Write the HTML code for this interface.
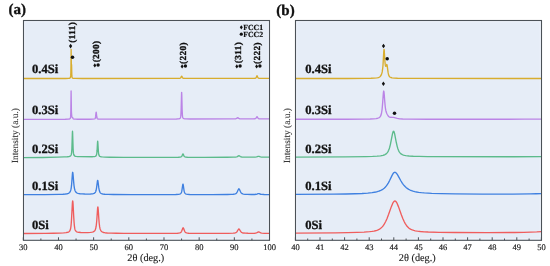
<!DOCTYPE html>
<html><head><meta charset="utf-8"><title>XRD</title>
<style>html,body{margin:0;padding:0;background:#fff;}body{width:550px;height:266px;overflow:hidden;}svg{display:block;text-rendering:geometricPrecision;}</style>
</head><body>
<svg width="550" height="266" viewBox="0 0 550 266">
<defs><clipPath id="ca"><rect x="23" y="20" width="247" height="221"/></clipPath><clipPath id="cb"><rect x="295" y="20" width="247" height="221"/></clipPath></defs>
<rect x="23.5" y="20.5" width="246.0" height="219.8" fill="#e6edf7"/>
<rect x="295.5" y="20.5" width="246.0" height="219.8" fill="#e6edf7"/>
<rect x="24.7" y="21.7" width="243.6" height="217.4" fill="none" stroke="#f8fbff" stroke-opacity="0.7" stroke-width="1"/>
<rect x="296.7" y="21.7" width="243.6" height="217.4" fill="none" stroke="#f8fbff" stroke-opacity="0.7" stroke-width="1"/>
<g fill="none" stroke-width="1.35" stroke-linejoin="round" clip-path="url(#ca)">
<path stroke="#d8ad2e" d="M23.30,78.50 L65.65,78.46 L68.67,78.37 L69.37,78.27 L69.87,78.09 L70.08,77.94 L70.29,77.65 L70.50,77.01 L70.71,75.40 L70.85,72.83 L70.99,65.45 L71.14,49.37 L71.34,65.68 L71.41,66.28 L71.56,64.58 L71.84,75.66 L71.98,76.99 L72.19,77.67 L72.40,77.95 L72.61,78.10 L73.38,78.32 L75.64,78.44 L82.11,78.47 L177.98,78.40 L179.67,78.31 L180.38,78.12 L180.80,77.71 L181.43,76.35 L181.64,76.14 L181.85,76.35 L182.42,77.59 L182.84,78.08 L183.47,78.29 L184.74,78.38 L196.20,78.43 L252.62,78.38 L254.80,78.29 L255.36,78.21 L255.71,78.07 L255.99,77.83 L256.21,77.52 L256.84,75.98 L257.01,75.80 L257.19,75.98 L257.68,77.23 L257.96,77.74 L258.32,78.07 L258.74,78.22 L259.58,78.32 L261.13,78.37 L269.50,78.40"/>
<path stroke="#bb84e6" d="M23.30,119.35 L65.29,119.24 L68.46,119.14 L69.23,119.03 L69.73,118.85 L70.15,118.44 L70.43,117.70 L70.57,116.88 L70.71,115.09 L70.85,110.12 L71.10,91.04 L71.41,110.94 L71.56,113.73 L71.77,116.18 L71.91,116.98 L72.05,117.29 L72.47,117.41 L73.03,118.44 L73.31,118.79 L73.67,118.99 L74.16,119.10 L75.35,119.18 L77.60,119.22 L89.63,119.21 L93.08,119.14 L94.49,118.95 L94.84,118.80 L95.05,118.63 L95.26,118.29 L95.40,117.86 L95.68,116.18 L96.03,112.80 L96.18,112.21 L96.32,112.80 L96.74,116.72 L96.88,117.56 L97.09,118.29 L97.30,118.63 L97.65,118.87 L98.14,119.01 L98.85,119.10 L101.17,119.17 L106.87,119.19 L169.68,119.07 L176.51,118.99 L178.05,118.90 L179.04,118.75 L179.53,118.59 L179.88,118.39 L180.16,118.12 L180.38,117.80 L180.66,116.96 L180.87,115.37 L181.15,109.55 L181.50,95.13 L181.64,92.36 L181.78,95.13 L182.13,109.54 L182.42,115.37 L182.63,116.96 L182.91,117.80 L183.33,118.32 L184.03,118.68 L184.81,118.84 L185.93,118.93 L190.22,119.01 L233.13,118.93 L234.89,118.87 L235.81,118.74 L236.37,118.52 L237.35,117.86 L237.71,117.76 L238.06,117.86 L238.83,118.40 L239.25,118.62 L239.74,118.76 L240.45,118.85 L244.74,118.92 L253.11,118.87 L254.73,118.78 L255.50,118.57 L255.99,118.15 L256.77,116.89 L257.01,116.72 L257.26,116.89 L257.82,117.85 L258.17,118.30 L258.60,118.60 L259.09,118.74 L261.62,118.87 L269.50,118.89"/>
<path stroke="#5cbb8b" d="M23.30,157.59 L42.78,157.47 L57.98,157.14 L64.17,156.92 L67.33,156.75 L69.09,156.53 L69.66,156.39 L70.15,156.18 L70.71,155.73 L71.13,155.01 L71.41,154.03 L71.63,152.57 L71.91,148.31 L72.40,132.57 L72.50,131.27 L72.61,132.56 L73.10,148.28 L73.24,150.86 L73.45,153.13 L73.74,154.56 L73.95,155.12 L74.23,155.58 L74.58,155.92 L75.00,156.16 L75.49,156.32 L76.20,156.45 L77.46,156.56 L79.50,156.62 L92.17,156.75 L93.50,156.70 L94.49,156.60 L95.19,156.42 L95.68,156.17 L96.10,155.76 L96.39,155.23 L96.60,154.51 L96.81,153.26 L97.09,150.17 L97.51,142.67 L97.69,141.19 L97.86,142.68 L98.43,151.99 L98.64,153.80 L98.85,154.86 L99.20,155.73 L99.48,156.09 L99.83,156.37 L100.75,156.73 L102.22,156.95 L104.97,157.11 L109.68,157.24 L123.68,157.39 L166.10,157.36 L178.41,157.26 L180.38,157.10 L180.87,156.97 L181.29,156.75 L181.57,156.50 L181.85,156.11 L182.70,154.23 L182.84,154.02 L182.98,153.94 L183.12,154.02 L183.26,154.23 L184.10,156.11 L184.39,156.50 L184.67,156.75 L185.09,156.96 L185.58,157.09 L187.41,157.24 L191.84,157.30 L204.01,157.30 L226.94,157.25 L233.84,157.18 L235.52,157.09 L236.58,156.90 L237.35,156.58 L238.48,155.86 L238.90,155.75 L239.32,155.86 L240.38,156.53 L241.08,156.85 L241.93,157.03 L243.05,157.13 L248.89,157.20 L255.08,157.12 L256.56,156.95 L258.17,156.38 L258.60,156.31 L259.02,156.38 L260.50,156.91 L261.62,157.09 L263.94,157.16 L269.50,157.19"/>
<path stroke="#3f80e0" d="M23.30,194.69 L44.90,194.60 L59.17,194.36 L62.90,194.22 L65.44,194.02 L67.12,193.76 L68.39,193.36 L69.30,192.79 L69.66,192.44 L70.01,191.97 L70.57,190.75 L70.99,189.16 L71.27,187.52 L71.56,185.19 L72.40,174.04 L72.54,172.75 L72.68,172.29 L72.82,172.64 L73.03,174.33 L73.67,182.14 L74.02,185.53 L74.44,188.29 L74.93,190.24 L75.28,191.12 L75.64,191.75 L76.06,192.28 L76.62,192.77 L77.25,193.12 L78.03,193.41 L78.94,193.62 L80.07,193.79 L82.11,193.95 L84.78,194.04 L88.02,194.07 L90.55,194.01 L91.95,193.90 L93.08,193.72 L93.92,193.46 L94.63,193.07 L95.12,192.59 L95.47,192.05 L95.82,191.23 L96.10,190.26 L96.60,187.61 L97.37,181.49 L97.51,180.75 L97.69,180.39 L97.86,180.75 L98.00,181.50 L98.71,187.15 L99.06,189.34 L99.48,191.07 L99.90,192.13 L100.18,192.58 L100.54,192.98 L100.96,193.32 L101.52,193.61 L102.86,193.99 L104.83,194.24 L108.13,194.41 L113.34,194.52 L132.12,194.63 L170.39,194.59 L175.80,194.51 L178.55,194.33 L179.60,194.13 L180.38,193.82 L180.87,193.42 L181.29,192.74 L181.57,191.97 L181.85,190.80 L182.70,185.04 L182.84,184.37 L182.98,184.13 L183.12,184.37 L183.26,185.04 L184.10,190.80 L184.39,191.97 L184.67,192.74 L185.09,193.41 L185.58,193.81 L186.35,194.13 L187.48,194.34 L189.59,194.49 L193.18,194.56 L212.03,194.60 L227.51,194.53 L231.02,194.44 L233.27,194.29 L234.40,194.12 L235.17,193.91 L235.81,193.60 L236.30,193.21 L236.72,192.72 L237.14,192.04 L238.48,189.16 L238.69,188.90 L238.90,188.80 L239.11,188.90 L239.39,189.28 L240.52,191.77 L240.87,192.40 L241.29,192.98 L241.71,193.39 L242.21,193.72 L242.77,193.95 L243.47,194.13 L245.02,194.32 L247.34,194.44 L251.14,194.50 L254.45,194.47 L256.28,194.28 L256.98,194.08 L258.10,193.65 L258.60,193.57 L259.09,193.66 L260.71,194.24 L261.90,194.44 L264.22,194.53 L269.50,194.57"/>
<path stroke="#ef5d5d" d="M23.30,233.48 L45.39,233.38 L53.48,233.24 L59.88,233.06 L63.61,232.87 L66.07,232.62 L67.76,232.26 L68.39,232.03 L68.95,231.73 L69.37,231.40 L69.73,231.01 L70.22,230.06 L70.57,228.80 L70.92,226.59 L71.20,223.82 L71.48,219.96 L72.40,203.16 L72.54,201.64 L72.70,201.01 L72.82,201.39 L72.89,201.93 L73.03,203.64 L73.74,216.94 L74.09,222.46 L74.37,225.61 L74.72,228.18 L74.93,229.18 L75.21,230.07 L75.49,230.64 L75.85,231.11 L76.34,231.53 L76.90,231.83 L77.68,232.10 L78.59,232.29 L80.77,232.51 L84.01,232.61 L87.87,232.58 L90.55,232.43 L92.10,232.20 L93.22,231.85 L94.06,231.37 L94.77,230.66 L95.26,229.80 L95.68,228.59 L96.03,226.98 L96.32,225.09 L96.81,219.97 L97.58,208.60 L97.72,207.38 L97.86,206.95 L98.00,207.39 L98.22,209.46 L98.85,219.07 L99.20,223.27 L99.62,226.64 L100.04,228.68 L100.33,229.57 L100.68,230.34 L101.10,230.98 L101.59,231.48 L102.22,231.91 L102.93,232.23 L103.84,232.50 L104.90,232.71 L107.36,232.97 L111.02,233.16 L116.43,233.29 L123.75,233.38 L165.53,233.41 L173.69,233.37 L177.56,233.25 L178.90,233.13 L179.81,232.95 L180.45,232.70 L180.94,232.33 L181.29,231.89 L181.64,231.28 L182.77,228.29 L182.98,227.93 L183.15,227.83 L183.33,227.93 L183.54,228.29 L184.67,231.27 L185.02,231.89 L185.37,232.32 L185.86,232.70 L186.50,232.95 L187.41,233.12 L188.68,233.24 L191.28,233.34 L195.64,233.38 L217.45,233.39 L228.56,233.33 L233.34,233.16 L234.40,233.04 L235.17,232.88 L235.81,232.64 L236.30,232.34 L236.72,231.97 L237.14,231.46 L238.48,229.27 L238.69,229.07 L238.90,229.00 L239.11,229.07 L239.39,229.36 L240.52,231.25 L241.29,232.17 L241.71,232.48 L242.21,232.73 L243.47,233.04 L245.30,233.20 L248.12,233.29 L252.20,233.30 L254.73,233.21 L255.64,233.10 L256.35,232.92 L256.98,232.65 L258.10,232.00 L258.60,231.88 L259.09,232.00 L260.71,232.87 L261.90,233.17 L264.22,233.31 L269.50,233.37"/>
</g>
<g fill="none" stroke-width="1.35" stroke-linejoin="round" clip-path="url(#cb)">
<path stroke="#d8ad2e" d="M295.40,78.48 L347.55,78.46 L366.00,78.38 L370.92,78.29 L374.37,78.15 L376.83,77.90 L378.30,77.58 L379.04,77.29 L379.78,76.84 L380.27,76.39 L380.76,75.79 L381.25,74.94 L381.50,74.38 L381.99,72.83 L382.24,71.71 L382.73,68.20 L382.98,65.45 L383.71,52.60 L383.96,49.61 L384.03,49.37 L384.21,50.14 L384.94,61.56 L385.19,64.14 L385.44,65.68 L385.68,66.34 L385.93,66.28 L386.67,64.46 L386.91,64.58 L387.16,65.54 L388.14,72.65 L388.39,73.96 L388.88,75.66 L389.37,76.52 L389.86,76.99 L390.85,77.51 L392.08,77.83 L394.29,78.10 L397.49,78.27 L410.04,78.42 L541.40,78.47"/>
<path stroke="#bb84e6" d="M295.40,119.28 L346.57,119.24 L365.26,119.14 L370.18,119.04 L373.63,118.88 L376.09,118.62 L377.81,118.24 L378.55,117.96 L379.29,117.54 L379.78,117.14 L380.27,116.57 L380.76,115.70 L381.01,115.09 L381.50,113.24 L381.99,110.12 L382.24,107.90 L382.73,101.92 L383.22,94.85 L383.47,92.15 L383.71,91.04 L383.96,91.90 L384.21,94.34 L384.70,100.88 L385.19,106.31 L385.44,108.27 L385.93,110.94 L386.17,111.84 L386.67,113.18 L387.16,114.24 L387.90,115.53 L388.39,116.18 L389.13,116.83 L389.62,117.09 L390.36,117.29 L392.57,117.34 L393.55,117.45 L397.24,118.44 L399.70,118.84 L402.66,119.03 L407.82,119.14 L427.26,119.22 L480.39,119.23 L524.43,119.19 L541.40,119.10"/>
<path stroke="#5cbb8b" d="M295.40,157.12 L345.09,156.86 L366.25,156.62 L372.64,156.43 L377.07,156.18 L380.52,155.80 L382.98,155.31 L383.96,155.01 L384.94,154.61 L385.68,154.20 L386.42,153.64 L387.16,152.88 L387.65,152.21 L388.14,151.38 L388.63,150.33 L389.13,149.05 L389.62,147.49 L390.36,144.58 L392.57,133.49 L393.06,131.87 L393.31,131.42 L393.55,131.27 L393.80,131.42 L394.05,131.86 L394.54,133.49 L396.26,142.26 L397.24,146.58 L397.98,149.03 L398.47,150.31 L398.97,151.35 L399.46,152.18 L400.20,153.13 L400.69,153.61 L401.43,154.16 L402.41,154.67 L403.39,155.04 L404.62,155.38 L405.85,155.62 L409.05,156.01 L413.23,156.28 L419.14,156.45 L427.50,156.55 L514.09,156.75 L541.40,156.69"/>
<path stroke="#3f80e0" d="M295.40,194.38 L333.78,194.15 L345.83,194.00 L354.93,193.79 L362.07,193.51 L367.72,193.14 L372.15,192.67 L375.84,192.02 L377.32,191.66 L378.79,191.22 L380.02,190.75 L381.25,190.19 L382.24,189.64 L383.22,188.98 L384.21,188.20 L385.19,187.27 L386.17,186.16 L386.91,185.19 L388.39,182.87 L389.62,180.55 L392.08,175.39 L393.06,173.66 L393.55,173.01 L394.05,172.55 L394.54,172.32 L394.78,172.29 L395.28,172.38 L395.77,172.64 L396.26,173.07 L396.75,173.64 L397.74,175.11 L400.69,180.48 L402.41,183.28 L403.39,184.63 L404.38,185.81 L405.36,186.83 L406.35,187.71 L407.58,188.63 L408.81,189.39 L410.04,190.02 L411.51,190.63 L412.99,191.12 L414.71,191.58 L416.68,191.99 L418.65,192.32 L421.35,192.66 L424.30,192.94 L431.68,193.39 L441.52,193.69 L455.05,193.90 L482.36,194.05 L512.86,194.05 L530.08,193.89 L536.23,193.75 L541.40,193.56"/>
<path stroke="#ef5d5d" d="M295.40,233.11 L335.25,232.83 L347.55,232.64 L356.90,232.40 L364.03,232.07 L369.69,231.63 L371.91,231.37 L373.87,231.05 L375.35,230.74 L376.83,230.33 L378.06,229.86 L379.04,229.39 L380.02,228.80 L381.01,228.06 L381.99,227.13 L382.73,226.30 L383.47,225.34 L384.21,224.23 L385.68,221.54 L387.16,218.22 L388.63,214.33 L391.34,206.64 L392.57,203.66 L393.31,202.30 L393.80,201.64 L394.29,201.20 L394.54,201.08 L394.91,201.01 L395.28,201.08 L395.52,201.20 L396.01,201.63 L396.51,202.29 L397.24,203.64 L398.47,206.62 L401.43,214.97 L402.90,218.77 L404.38,221.98 L405.12,223.35 L406.10,224.93 L407.08,226.24 L408.07,227.31 L409.05,228.18 L410.04,228.88 L411.02,229.44 L412.25,229.98 L413.73,230.45 L415.20,230.81 L417.42,231.18 L420.37,231.53 L424.06,231.82 L428.24,232.04 L439.06,232.35 L455.05,232.53 L487.53,232.61 L514.83,232.49 L523.69,232.37 L530.82,232.19 L536.73,231.95 L541.40,231.65"/>
</g>
<rect x="23.5" y="20.5" width="246.0" height="219.8" fill="none" stroke="#4b5157" stroke-width="1.1"/>
<rect x="295.5" y="20.5" width="246.0" height="219.8" fill="none" stroke="#4b5157" stroke-width="1.1"/>
<path stroke="#4b5157" stroke-width="1" d="M23.30,240.30 V237.30 M40.89,240.30 V238.50 M58.47,240.30 V237.30 M76.06,240.30 V238.50 M93.64,240.30 V237.30 M111.23,240.30 V238.50 M128.81,240.30 V237.30 M146.40,240.30 V238.50 M163.99,240.30 V237.30 M181.57,240.30 V238.50 M199.16,240.30 V237.30 M216.74,240.30 V238.50 M234.33,240.30 V237.30 M251.91,240.30 V238.50 M269.50,240.30 V237.30 M295.40,240.30 V237.30 M307.70,240.30 V238.50 M320.00,240.30 V237.30 M332.30,240.30 V238.50 M344.60,240.30 V237.30 M356.90,240.30 V238.50 M369.20,240.30 V237.30 M381.50,240.30 V238.50 M393.80,240.30 V237.30 M406.10,240.30 V238.50 M418.40,240.30 V237.30 M430.70,240.30 V238.50 M443.00,240.30 V237.30 M455.30,240.30 V238.50 M467.60,240.30 V237.30 M479.90,240.30 V238.50 M492.20,240.30 V237.30 M504.50,240.30 V238.50 M516.80,240.30 V237.30 M529.10,240.30 V238.50 M541.40,240.30 V237.30"/>
<g font-family="'Liberation Serif','Times New Roman',serif" font-size="8.5" fill="#1a1a1a" stroke="#1a1a1a" stroke-width="0.15" text-anchor="middle">
<text x="23.30" y="250.0">30</text>
<text x="58.47" y="250.0">40</text>
<text x="93.64" y="250.0">50</text>
<text x="128.81" y="250.0">60</text>
<text x="163.99" y="250.0">70</text>
<text x="199.16" y="250.0">80</text>
<text x="234.33" y="250.0">90</text>
<text x="269.50" y="250.0">100</text>
<text x="295.40" y="250.0">40</text>
<text x="320.00" y="250.0">41</text>
<text x="344.60" y="250.0">42</text>
<text x="369.20" y="250.0">43</text>
<text x="393.80" y="250.0">44</text>
<text x="418.40" y="250.0">45</text>
<text x="443.00" y="250.0">46</text>
<text x="467.60" y="250.0">47</text>
<text x="492.20" y="250.0">48</text>
<text x="516.80" y="250.0">49</text>
<text x="541.40" y="250.0">50</text>
</g>
<g font-family="'Liberation Serif','Times New Roman',serif" font-size="10" fill="#1a1a1a" stroke="#1a1a1a" stroke-width="0.12" text-anchor="middle">
<text x="145.8" y="260.9" font-size="10.3">2θ (deg.)</text>
<text x="417.3" y="260.9" font-size="10.3">2θ (deg.)</text>
<text transform="translate(18.2,135.6) rotate(-90)" font-size="9.4" fill="#383838" stroke="#383838">Intensity (a.u.)</text>
<text transform="translate(290.2,135.6) rotate(-90)" font-size="9.4" fill="#383838" stroke="#383838">Intensity (a.u.)</text>
</g>
<g font-family="'Liberation Serif','Times New Roman',serif" font-weight="bold" font-size="15" fill="#111" stroke="#111" stroke-width="0.3">
<text x="8.6" y="14.4">(a)</text>
<text x="276.3" y="15.0">(b)</text>
</g>
<g font-family="'Liberation Serif','Times New Roman',serif" font-weight="bold" font-size="12.6" fill="#111" stroke="#111" stroke-width="0.3">
<text x="32" y="73.0">0.4Si</text>
<text x="305.2" y="73.0">0.4Si</text>
<text x="32" y="113.8">0.3Si</text>
<text x="305.2" y="113.8">0.3Si</text>
<text x="32" y="153.0">0.2Si</text>
<text x="305.2" y="153.0">0.2Si</text>
<text x="32" y="190.2">0.1Si</text>
<text x="305.2" y="190.2">0.1Si</text>
<text x="32" y="228.7">0Si</text>
<text x="305.2" y="228.7">0Si</text>
</g>
<g font-family="'Liberation Serif','Times New Roman',serif" font-weight="bold" font-size="9.2" letter-spacing="0.4" fill="#111" stroke="#111" stroke-width="0.35" text-anchor="middle">
<text transform="translate(71.80,32.30) rotate(-90)" dy="0.33em">(111)</text>
<text transform="translate(95.80,51.40) rotate(-90)" dy="0.33em">(200)</text>
<text transform="translate(183.00,53.10) rotate(-90)" dy="0.33em">(220)</text>
<text transform="translate(237.50,52.60) rotate(-90)" dy="0.33em">(311)</text>
<text transform="translate(257.40,53.10) rotate(-90)" dy="0.33em">(222)</text>
</g>
<g fill="#111"><path d="M70.60,43.80 L72.20,46.10 L70.60,48.40 L69.00,46.10 Z"/><circle cx="72.50" cy="57.20" r="1.75"/><path d="M94.80,63.20 L96.30,65.40 L94.80,67.60 L93.30,65.40 Z"/><circle cx="98.10" cy="65.00" r="1.70"/><path d="M182.10,64.20 L183.60,66.40 L182.10,68.60 L180.60,66.40 Z"/><circle cx="185.40" cy="66.00" r="1.70"/><path d="M236.80,64.20 L238.30,66.40 L236.80,68.60 L235.30,66.40 Z"/><circle cx="240.10" cy="66.00" r="1.70"/><path d="M256.60,64.20 L258.10,66.40 L256.60,68.60 L255.10,66.40 Z"/><circle cx="259.90" cy="66.00" r="1.70"/><path d="M241.30,25.20 L242.80,27.30 L241.30,29.40 L239.80,27.30 Z"/><circle cx="241.30" cy="34.20" r="1.60"/><path d="M383.50,43.70 L385.10,46.00 L383.50,48.30 L381.90,46.00 Z"/><circle cx="387.20" cy="58.80" r="1.75"/><path d="M383.40,81.50 L385.00,83.80 L383.40,86.10 L381.80,83.80 Z"/><circle cx="394.50" cy="113.20" r="1.75"/></g>
<g font-family="'Liberation Serif','Times New Roman',serif" font-weight="bold" font-size="7.8" fill="#111" stroke="#111" stroke-width="0.2">
<text x="243.2" y="29.9">FCC1</text>
<text x="243.2" y="36.6">FCC2</text>
</g>
</svg>
</body></html>
